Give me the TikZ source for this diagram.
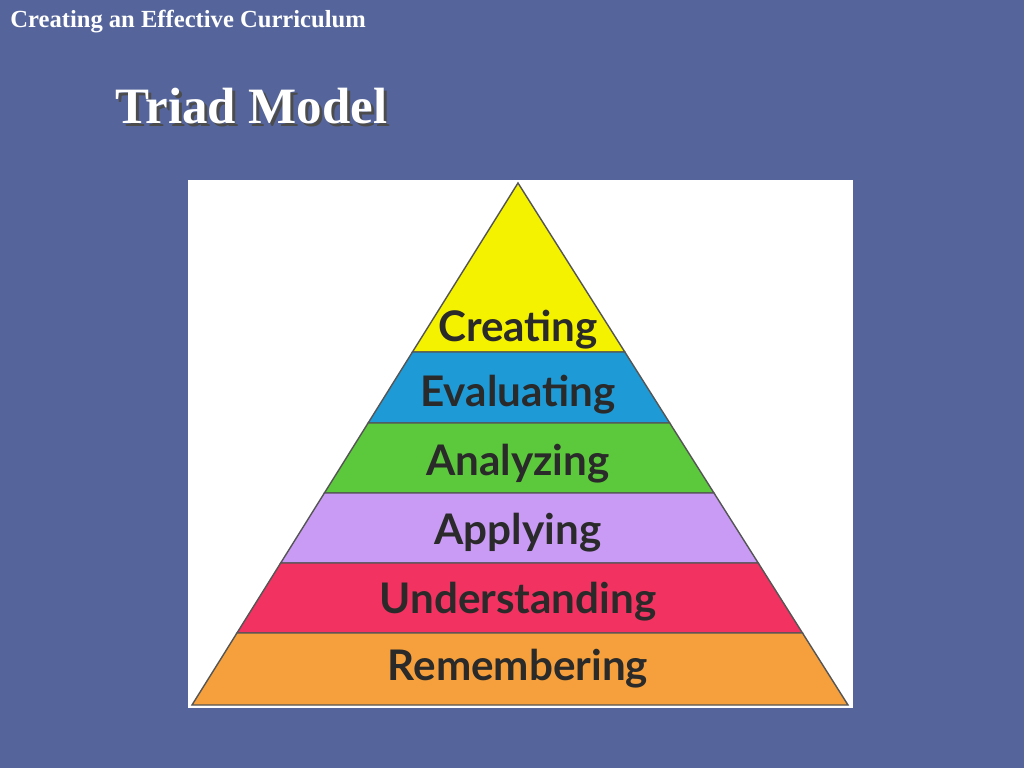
\documentclass[tikz,border=0pt]{standalone}
\usepackage{fontspec}
\setmainfont{Liberation Serif}
\newfontfamily\lblfont{Lato}
\usetikzlibrary{calc}
\definecolor{slide}{HTML}{55659B}
\definecolor{lvlA}{HTML}{F5F200}
\definecolor{lvlB}{HTML}{1E9BD7}
\definecolor{lvlC}{HTML}{5CC83C}
\definecolor{lvlD}{HTML}{C99BF5}
\definecolor{lvlE}{HTML}{F23260}
\definecolor{lvlF}{HTML}{F5A03C}
\definecolor{ink}{HTML}{2A2A2A}
\begin{document}
\begin{tikzpicture}[x=0.02cm, y=-0.02cm,
  level/.style={draw=ink!80, line width=0.8pt},
  level label/.style={font=\lblfont\bfseries\fontsize{24}{28}\selectfont, text=ink}]

\fill[slide] (0,0) rectangle (1024,768);
\useasboundingbox (0,0) rectangle (1024,768);
\node[anchor=west, inner sep=0pt, text=white, font=\bfseries\fontsize{14}{16}\selectfont] (head) at (10,22) {Creating an Effective Curriculum};
\node[anchor=west, inner sep=0pt, text=black!70, font=\bfseries\fontsize{29}{32}\selectfont] at (118,109) {Triad Model};
\node[anchor=west, inner sep=0pt, text=white, font=\bfseries\fontsize{29}{32}\selectfont] (title) at (115,106) {Triad Model};
\fill[white] (188,180) rectangle (853,708);

\coordinate (apex) at (518,183);
\coordinate (L) at (192,705);
\coordinate (R) at (848,705);

% bands from the top down
\foreach \top/\bot/\col/\txt/\ly in {183/352/lvlA/Creating/330, 352/423/lvlB/Evaluating/395,
    423/493/lvlC/Analyzing/464, 493/563/lvlD/Applying/533,
    563/633/lvlE/Understanding/602, 633/705/lvlF/Remembering/669} {
  \pgfmathsetmacro\ta{(\top-183)/522}
  \pgfmathsetmacro\tb{(\bot-183)/522}
  \draw[level, fill=\col] ($(apex)!\ta!(L)$) -- ($(apex)!\tb!(L)$) -- ($(apex)!\tb!(R)$) -- ($(apex)!\ta!(R)$) -- cycle;
  \node[level label] (\txt) at (518,\ly) {\txt};
}

\end{tikzpicture}
\end{document}
